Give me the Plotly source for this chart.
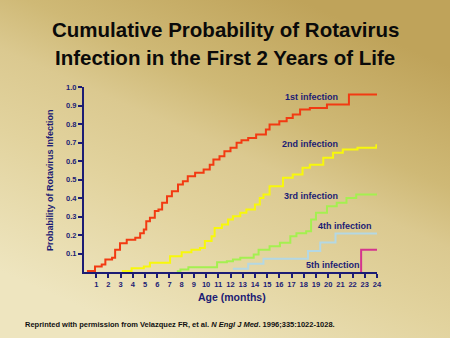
import base64
import plotly.graph_objects as go

# ---------------- data ----------------
months_ticks = list(range(1, 25))
y_ticks = [0.1, 0.2, 0.3, 0.4, 0.5, 0.6, 0.7, 0.8, 0.9, 1.0]
y_tick_labels = ["0.1", "0.2", "0.3", "0.4", "0.5", "0.6", "0.7", "0.8", "0.9", "1.0"]

first_x = [0.24, 0.9, 1.45, 1.75, 2.3, 2.55, 2.95, 3.5, 4.2, 4.6, 4.9, 5.1, 5.4, 5.8, 6.1, 6.4,
           6.8, 7.2, 7.7, 8.1, 8.5, 9.1, 9.8, 10.3, 10.6, 11.1, 11.5, 12.0, 12.5, 12.9, 13.45,
           14.1, 14.9, 15.2, 16.0, 16.6, 17.1, 17.7, 18.5, 19.9, 21.7, 24.0]
first_y = [0.005, 0.03, 0.04, 0.068, 0.077, 0.12, 0.155, 0.175, 0.185, 0.21, 0.23, 0.275, 0.293,
           0.33, 0.338, 0.374, 0.41, 0.437, 0.473, 0.49, 0.518, 0.536, 0.554, 0.58, 0.608, 0.626,
           0.653, 0.671, 0.698, 0.712, 0.725, 0.743, 0.77, 0.797, 0.815, 0.833, 0.851, 0.878,
           0.887, 0.905, 0.96, 0.96]

second_x = [3.1, 3.9, 4.9, 5.4, 7.05, 8.0, 8.8, 9.5, 9.9, 10.45, 10.7, 11.3, 11.8, 12.2, 12.8,
            13.3, 14.0, 14.4, 14.7, 15.2, 16.3, 17.1, 17.9, 18.5, 19.6, 20.4, 21.2, 22.4, 23.95, 24.0]
second_y = [0.005, 0.02, 0.03, 0.05, 0.085, 0.107, 0.12, 0.13, 0.167, 0.193, 0.238, 0.257, 0.284,
            0.302, 0.32, 0.338, 0.365, 0.4, 0.419, 0.464, 0.509, 0.527, 0.563, 0.58, 0.617, 0.644,
            0.662, 0.671, 0.685, 0.685]

third_x = [7.6, 7.9, 8.55, 10.9, 11.7, 12.2, 12.8, 13.9, 14.3, 15.2, 16.05, 16.9, 17.4, 18.2,
           18.6, 19.0, 19.9, 20.7, 21.5, 22.3, 24.0]
third_y = [0.004, 0.013, 0.026, 0.053, 0.058, 0.068, 0.077, 0.095, 0.12, 0.139, 0.158, 0.193,
           0.21, 0.22, 0.284, 0.32, 0.356, 0.374, 0.4, 0.419, 0.419]

fourth_x = [12.2, 13.45, 14.7, 18.35, 19.35, 20.6, 24.0]
fourth_y = [0.018, 0.045, 0.072, 0.113, 0.16, 0.208, 0.208]

fifth_x = [22.7, 22.7, 24.0]
fifth_y = [0.0, 0.12, 0.12]

series_names = ["1st infection", "2nd infection", "3rd infection", "4th infection", "5th infection"]
series_colors = ["#f23a12", "#f8f80a", "#a4f050", "#b4d8e4", "#d4348e"]
label_x = [18.63, 18.55, 18.63, 21.36, 20.4]
label_y = [0.946, 0.694, 0.413, 0.247, 0.039]

title_lines = ["Cumulative Probability of Rotavirus", "Infection in the First 2 Years of Life"]
x_title = "Age (months)"
y_title = "Probability of Rotavirus Infection"
footnote = "Reprinted with permission from Velazquez FR, et al. <i>N Engl J Med</i>. 1996;335:1022-1028."

# ---------------- figure ----------------
W, H = 450, 338
L, R, T, B = 84, 73, 87, 66
pw, ph = W - L - R, H - T - B

NAVY = "#1c1c74"
SMALL = "Liberation Sans Narrow, Arial Narrow, Liberation Sans, Arial, sans-serif"
MAIN = "Liberation Sans, Arial, sans-serif"

fig = go.Figure()
xs = [first_x, second_x, third_x, fourth_x, fifth_x]
ys = [first_y, second_y, third_y, fourth_y, fifth_y]
for name, c, x, y in zip(series_names, series_colors, xs, ys):
    fig.add_trace(go.Scatter(x=x, y=y, mode="lines", name=name,
                             line=dict(color=c, width=2, shape="hv"), cliponaxis=False))

svg = (f"<svg xmlns='http://www.w3.org/2000/svg' width='{W}' height='{H}' preserveAspectRatio='none'>"
       f"<defs><linearGradient id='g' gradientUnits='userSpaceOnUse' x1='150' y1='{H}' x2='300' y2='0'>"
       "<stop offset='0' stop-color='#eee5bf'/>"
       "<stop offset='0.35' stop-color='#e2d39e'/>"
       "<stop offset='0.55' stop-color='#dbc990'/>"
       "<stop offset='0.7' stop-color='#cfb976'/>"
       "<stop offset='1' stop-color='#bfa35a'/>"
       "</linearGradient></defs>"
       f"<rect width='{W}' height='{H}' fill='url(#g)'/></svg>")
src = "data:image/svg+xml;base64," + base64.b64encode(svg.encode()).decode()

def py(pix):  # pixel y -> paper y
    return (H - B - pix) / ph

def px(pix):
    return (pix - L) / pw

annotations = []
# title
for i, t in enumerate(title_lines):
    annotations.append(dict(text=t, xref="paper", yref="paper", x=px(225), y=py([29.5, 57][i]),
                            xanchor="center", yanchor="middle", showarrow=False,
                            font=dict(family=MAIN, size=20.5, color="#0a0a0a", weight="bold")))
# series labels
for name, lx, ly in zip(series_names, label_x, label_y):
    annotations.append(dict(text=name, x=lx, y=ly, xanchor="center", yanchor="middle", showarrow=False,
                            font=dict(family=SMALL, size=9, color=NAVY, weight="bold")))
# axis titles
annotations.append(dict(text=x_title, xref="paper", yref="paper", x=px(231.7), y=py(296.5),
                        xanchor="center", yanchor="middle", showarrow=False,
                        font=dict(family=SMALL, size=10.5, color=NAVY, weight="bold")))
annotations.append(dict(text=y_title, xref="paper", yref="paper", x=px(50), y=py(180),
                        xanchor="center", yanchor="middle", showarrow=False, textangle=-90,
                        font=dict(family=SMALL, size=9, color=NAVY, weight="bold")))
# footnote
annotations.append(dict(text=footnote, xref="paper", yref="paper", x=px(22.5), y=py(324.5),
                        xanchor="left", yanchor="middle", showarrow=False,
                        font=dict(family=MAIN, size=7.5, color="#111111", weight="bold")))

fig.update_layout(
    width=W, height=H, margin=dict(l=L, r=R, t=T, b=B, pad=0),
    paper_bgcolor="#e0cf98", plot_bgcolor="rgba(0,0,0,0)",
    showlegend=False,
    images=[dict(source=src, xref="paper", yref="paper", x=-L / pw, y=1 + T / ph,
                 sizex=W / pw, sizey=H / ph, sizing="stretch", layer="below", xanchor="left", yanchor="top")],
    annotations=annotations,
    xaxis=dict(range=[0, 24], tickvals=months_ticks, ticktext=[str(m) for m in months_ticks],
               showgrid=False, zeroline=False, showline=True, linecolor=NAVY, linewidth=2,
               ticks="outside", ticklen=4, tickwidth=1.5, tickcolor=NAVY,
               tickfont=dict(family=SMALL, size=7.5, color=NAVY, weight="bold"), fixedrange=True),
    yaxis=dict(range=[0, 1.0], tickvals=y_ticks, ticktext=y_tick_labels,
               showgrid=False, zeroline=False, showline=True, linecolor=NAVY, linewidth=2,
               ticks="outside", ticklen=4, tickwidth=1.5, tickcolor=NAVY,
               tickfont=dict(family=SMALL, size=7.5, color=NAVY, weight="bold"), fixedrange=True),
)

fig.write_html("out.html")
